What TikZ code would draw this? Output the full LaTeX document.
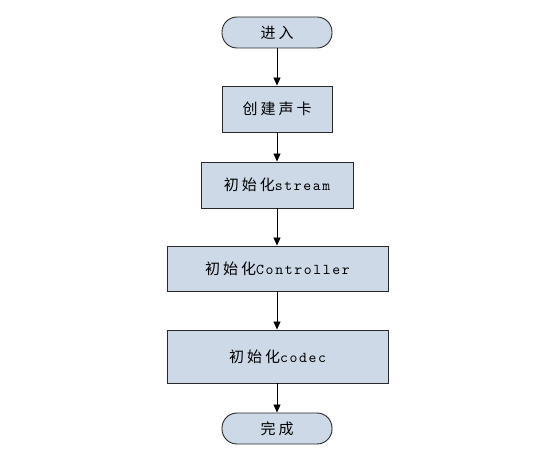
\documentclass[tikz,border=0pt]{standalone}
\usepackage{fontspec}
\newfontfamily\cjk[LetterSpace=20]{Noto Sans CJK SC}
\newfontfamily\mono[LetterSpace=11,Extension=.otf]{lmmono10-regular}
\usetikzlibrary{arrows.meta}
\definecolor{boxfill}{RGB}{205,217,231}
\definecolor{boxline}{RGB}{40,40,40}
\tikzset{
  base/.style={draw=boxline, line width=0.9pt, fill=boxfill, inner sep=0pt, font=\fontsize{15pt}{17pt}\selectfont, text=black},
  terminal/.style={base, rounded corners=15pt, minimum width=110pt, minimum height=31pt},
  procbox/.style={base, minimum height=46pt},
  flow/.style={draw=black, line width=0.9pt, -{Triangle[length=8pt,width=7pt]}}
}
\begin{document}
\begin{tikzpicture}[x=1pt,y=-1pt]
\useasboundingbox (0,0) rectangle (547,454);
\node[terminal] (start) at (277,32.5) {\cjk 进入};
\node[procbox, minimum width=110pt] (card) at (277,109) {\cjk 创建声卡};
\node[procbox, minimum width=152pt] (stream) at (277,185) {\cjk 初始化\mono stream};
\node[procbox, minimum width=221pt, minimum height=45pt] (ctrl) at (277.5,268.5) {\cjk 初始化\mono Controller};
\node[procbox, minimum width=221pt, minimum height=53pt] (codec) at (277.5,356.5) {\cjk 初始化\mono codec};
\node[terminal] (done) at (277,428.5) {\cjk 完成};
\draw[flow] (start) -- (card);
\draw[flow] (card) -- (stream);
\draw[flow] (stream) -- (stream|-ctrl.north);
\draw[flow] (ctrl.south-|stream) -- (stream|-codec.north);
\draw[flow] (codec.south-|stream) -- (done);
\end{tikzpicture}
\end{document}
